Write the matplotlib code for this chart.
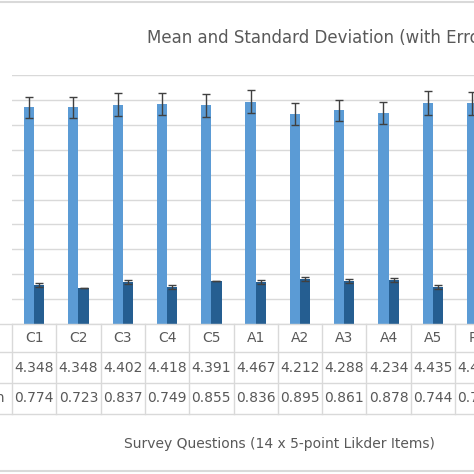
import matplotlib
matplotlib.use("Agg")
import matplotlib.pyplot as plt
from matplotlib.lines import Line2D
import numpy as np

items = ["C1","C2","C3","C4","C5","A1","A2","A3","A4","A5","P1","P2","P3","P4"]
means = [4.348,4.348,4.402,4.418,4.391,4.467,4.212,4.288,4.234,4.435,4.435,4.30,4.35,4.40]
stds = [0.774,0.723,0.837,0.749,0.855,0.836,0.895,0.861,0.878,0.744,0.760,0.800,0.780,0.790]
mean_err = [0.22,0.22,0.23,0.22,0.23,0.23,0.22,0.22,0.22,0.24,0.23,0.22,0.22,0.22]
std_err = [0.04,0.0,0.04,0.04,0.0,0.04,0.04,0.04,0.04,0.04,0.04,0.04,0.04,0.04]
row_labels = ["Mean", "Standard Deviation"]

W = H = 474
fig = plt.figure(figsize=(4.74, 4.74), dpi=100)
fig.patch.set_facecolor("white")
grey = "#595959"
gcol = "#D9D9D9"
left, top, bottom = 12, 75, 324
colw = 44.3
n = len(items)
ax = fig.add_axes([left/W, 1-bottom/H, n*colw/W, (bottom-top)/H])
x = np.arange(n)
bw = 0.23
ax.bar(x - bw/2, means, bw, color="#5B9BD5", yerr=mean_err,
       error_kw=dict(ecolor="#404040", elinewidth=1, capsize=3, capthick=1), zorder=3)
ax.bar(x + bw/2, stds, bw, color="#255E91", yerr=std_err,
       error_kw=dict(ecolor="#404040", elinewidth=1, capsize=3, capthick=1), zorder=3)
ax.set_xlim(-0.5, n-0.5)
ax.set_ylim(0, 5)
ax.set_yticks(np.arange(0, 5.01, 0.5))
ax.yaxis.grid(True, color=gcol, lw=1)
ax.set_axisbelow(True)
ax.tick_params(left=False, bottom=False, labelleft=False, labelbottom=False)
for s in ax.spines.values():
    s.set_visible(False)

# data table below axes
rows_y = [324, 352, 383, 414]
def fy(py):
    return 1 - py/H
for py in rows_y:
    fig.add_artist(Line2D([0, 1], [fy(py)]*2, color=gcol, lw=1))
for i in range(n+1):
    px = left + i*colw
    fig.add_artist(Line2D([px/W]*2, [fy(324), fy(414)], color=gcol, lw=1))
for i in range(n):
    cx = (left + (i+0.5)*colw)/W
    fig.text(cx, fy(338), items[i], ha="center", va="center", fontsize=10, color=grey)
    fig.text(cx, fy(367.5), f"{means[i]:.3f}", ha="center", va="center", fontsize=10, color=grey)
    fig.text(cx, fy(398.5), f"{stds[i]:.3f}", ha="center", va="center", fontsize=10, color=grey)
fig.text(-0.15, fy(367.5), row_labels[0], ha="left", va="center", fontsize=10, color=grey)
fig.text(4/W, fy(398.5), row_labels[1], ha="right", va="center", fontsize=10, color=grey)

fig.text(147/W, fy(38), "Mean and Standard Deviation (with Error Bars)", ha="left", va="center",
         fontsize=12, color=grey)
fig.text(124/W, fy(444), "Survey Questions (14 x 5-point Likder Items)", ha="left", va="center",
         fontsize=10, color=grey)
fig.add_artist(Line2D([0, 1], [fy(2)]*2, color=gcol, lw=1.5))
fig.add_artist(Line2D([0, 1], [fy(471)]*2, color=gcol, lw=1.5))
fig.savefig("out.png", dpi=100)
